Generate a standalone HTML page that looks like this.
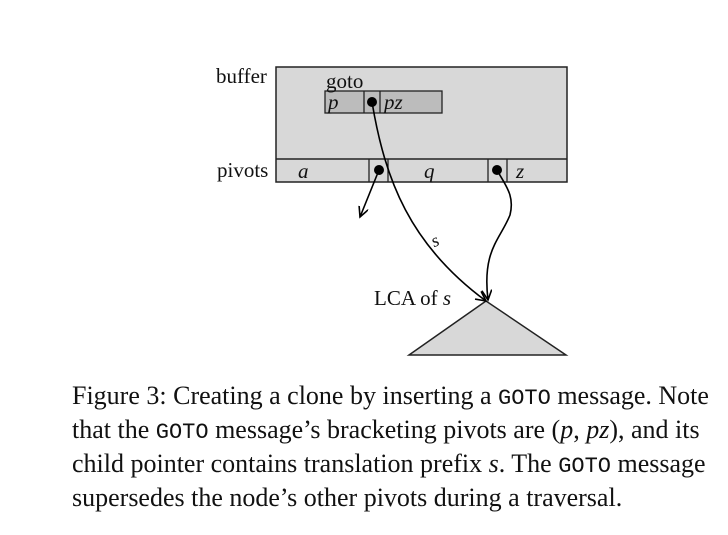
<!DOCTYPE html>
<html><head><style>
body{margin:0;background:#fff;width:728px;height:535px;overflow:hidden;position:relative;font-family:"Liberation Serif",serif;}
.cap{position:absolute;left:72px;top:380px;font-size:26px;line-height:31px;color:#111;white-space:nowrap;}
.m{font-family:"Liberation Mono",monospace;font-size:22px;}
</style></head><body>
<svg width="728" height="535" style="position:absolute;left:0;top:0" font-family="Liberation Serif, serif">
<defs><marker id="ah" markerWidth="12" markerHeight="12" refX="10" refY="5" orient="auto" markerUnits="userSpaceOnUse"><path d="M0,0 L10,5 L0,10" fill="none" stroke="#000" stroke-width="1.6"/></marker></defs>
<rect x="276" y="67" width="291" height="115" fill="#d8d8d8" stroke="#222" stroke-width="1.5"/>
<line x1="276" y1="159" x2="567" y2="159" stroke="#222" stroke-width="1.5"/>
<rect x="325" y="91" width="117" height="22" fill="#bcbcbc" stroke="#222" stroke-width="1.3"/>
<line x1="364" y1="91" x2="364" y2="113" stroke="#222" stroke-width="1.3"/>
<line x1="380" y1="91" x2="380" y2="113" stroke="#222" stroke-width="1.3"/>
<line x1="369" y1="159" x2="369" y2="182" stroke="#222" stroke-width="1.3"/>
<line x1="388" y1="159" x2="388" y2="182" stroke="#222" stroke-width="1.3"/>
<line x1="488" y1="159" x2="488" y2="182" stroke="#222" stroke-width="1.3"/>
<line x1="507" y1="159" x2="507" y2="182" stroke="#222" stroke-width="1.3"/>
<circle cx="372" cy="102" r="5" fill="#000"/>
<circle cx="379" cy="170" r="5" fill="#000"/>
<circle cx="497" cy="170" r="5" fill="#000"/>
<polygon points="486,301 409,355 566,355" fill="#d8d8d8" stroke="#222" stroke-width="1.5"/>
<path d="M379,170 L360,217" stroke="#000" stroke-width="1.6" fill="none" marker-end="url(#ah)"/>
<path d="M372,102 C385,180 410,245 486,301" stroke="#000" stroke-width="1.6" fill="none" marker-end="url(#ah)"/>
<path d="M497,170 C505,185 515,195 510,215 C500,240 482,250 488,300" stroke="#000" stroke-width="1.6" fill="none" marker-end="url(#ah)"/>
<g font-size="21" fill="#111">
<text x="216" y="83">buffer</text>
<text x="217" y="177">pivots</text>
<text x="326" y="88">goto</text>
<text x="374" y="305">LCA of <tspan font-style="italic">s</tspan></text>
<text x="328" y="109" font-style="italic">p</text><text x="384" y="109" font-style="italic">pz</text>
<text x="298" y="178" font-style="italic">a</text><text x="424" y="178" font-style="italic">q</text><text x="516" y="178" font-style="italic">z</text>
<text x="432" y="246" font-style="italic" font-size="18" transform="rotate(-25 436 242)">s</text>
</g>
</svg>
<div class="cap">Figure 3: Creating a clone by inserting a <span class="m">GOTO</span> message. Note<br>that the <span class="m">GOTO</span> message’s bracketing pivots are (<i>p</i>, <i>pz</i>), and its<br>child pointer contains translation prefix <i>s</i>. The <span class="m">GOTO</span> message<br>supersedes the node’s other pivots during a traversal.</div>
</body></html>
